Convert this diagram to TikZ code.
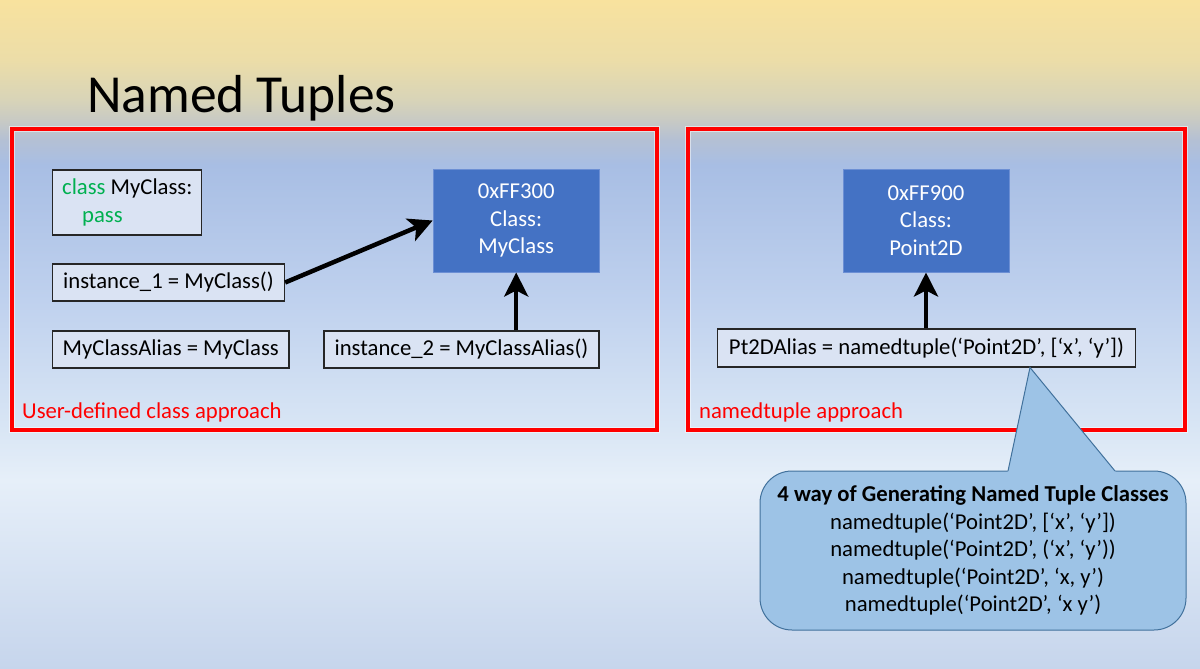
\documentclass[tikz,border=0pt]{standalone}
\usepackage{fontspec}
\setmainfont{Carlito}
\usetikzlibrary{arrows.meta}

\definecolor{bgtop}{HTML}{F8E29E}
\definecolor{bgsand}{HTML}{ECDDA8}
\definecolor{bgkhaki}{HTML}{D8D4B8}
\definecolor{bggray}{HTML}{C8CAC4}
\definecolor{bgslate}{HTML}{B4C0D4}
\definecolor{bgblue}{HTML}{A8BEE4}
\definecolor{bgmid}{HTML}{BFD1EE}
\definecolor{bgpale}{HTML}{D9E6F5}
\definecolor{bglight}{HTML}{E6EFF9}
\definecolor{bgbot}{HTML}{C6D5EC}
\definecolor{codefill}{HTML}{DAE3F3}
\definecolor{addrblue}{HTML}{4472C4}
\definecolor{addredge}{HTML}{6C8FD4}
\definecolor{calloutfill}{HTML}{9DC3E6}
\definecolor{calloutedge}{HTML}{41719C}
\definecolor{kwgreen}{HTML}{00B050}

\pgfdeclareverticalshading{slidebg}{100bp}{color(0bp)=(bgbot); color(25bp)=(bgbot);
  color(39.13bp)=(bglight); color(42.86bp)=(bgpale); color(52.58bp)=(bgmid);
  color(62.67bp)=(bgblue); color(64.54bp)=(bgslate); color(66.03bp)=(bggray);
  color(67.53bp)=(bgkhaki); color(70.52bp)=(bgsand); color(75bp)=(bgtop); color(100bp)=(bgtop)}

\begin{document}
\begin{tikzpicture}[x=1pt,y=-1pt,
  every node/.style={font=\fontsize{22.7}{27.5}\selectfont},
  codebox/.style={draw=black!85, line width=1.3pt, fill=codefill, inner sep=0pt},
  addrbox/.style={draw=addredge, line width=1pt, fill=addrblue, text=white, align=center,
    inner sep=0pt, minimum width=166pt, minimum height=103pt},
  approach/.style={draw=red, line width=3.5pt, preaction={draw=white, line width=5.5pt, opacity=.5}},
  approachlabel/.style={text=red, anchor=base west, inner sep=0pt},
  refarrow/.style={-{Stealth[length=24pt,width=24pt,inset=6pt]}, line width=4.5pt},
  waysbox/.style={draw=calloutedge, line width=1pt, fill=calloutfill, rounded corners=32pt,
    align=center, inner sep=0pt, minimum width=426pt, minimum height=159pt}]

  % slide background
  \useasboundingbox (0,0) rectangle (1200,669);
  \shade[shading=slidebg] (0,0) rectangle (1200,669);

  % title
  \node[anchor=base west, inner sep=0pt, font=\fontsize{53.5}{60}\selectfont] (title) at (87,113) {Named Tuples};

  % frames of the two approaches
  \draw[approach] (12,129) rectangle (657,430);
  \draw[approach] (688,129) rectangle (1185,430);
  \node[approachlabel] (userlbl) at (22,418) {User-defined class approach};
  \node[approachlabel] (ntlbl) at (699,418) {namedtuple approach};

  % user-defined class
  \node[codebox, align=left, minimum width=149pt, minimum height=65pt] (classdef) at (127.3,202.5)
    {\textcolor{kwgreen}{class} MyClass:\\\hspace*{20pt}\textcolor{kwgreen}{pass}};
  \node[codebox, minimum width=232pt, minimum height=37pt] (inst1) at (168.5,282.5) {instance\_1 = MyClass()};
  \node[codebox, minimum width=236.5pt, minimum height=37pt] (alias) at (170.8,349.5) {MyClassAlias = MyClass};
  \node[codebox, minimum width=275pt, minimum height=37pt] (inst2) at (461.5,349.5) {instance\_2 = MyClassAlias()};
  \node[addrbox] (addr1) at (516.2,220.5) {0xFF300\\Class:\\MyClass};

  % namedtuple
  \node[addrbox] (addr2) at (926,220.5) {0xFF900\\Class:\\Point2D};
  \node[codebox, minimum width=418pt, minimum height=38pt] (pt2d) at (926.5,348) {Pt2DAlias = namedtuple(‘Point2D’, [‘x’, ‘y’])};

  % references to the class objects
  \draw[refarrow] (inst1.east) -- (addr1.west);
  \draw[refarrow] (addr1.south |- inst2.north) -- (addr1.south);
  \draw[refarrow] (addr2.south |- pt2d.north) -- (addr2.south);

  % callout with the four forms
  \node[waysbox] (ways) at (973,550.5) {\textbf{4 way of Generating Named Tuple Classes}\\
    namedtuple(‘Point2D’, [‘x’, ‘y’])\\
    namedtuple(‘Point2D’, (‘x’, ‘y’))\\
    namedtuple(‘Point2D’, ‘x, y’)\\
    namedtuple(‘Point2D’, ‘x y’)};
  \coordinate (tip) at (1030,367.5);
  \fill[calloutfill] (1007.5,472) -- (1008,471) -- (tip) -- (1115,471) -- (1115.5,472) -- cycle;
  \draw[calloutedge, line width=1pt] (1008,471) -- (tip) -- (1115,471);

\end{tikzpicture}
\end{document}
